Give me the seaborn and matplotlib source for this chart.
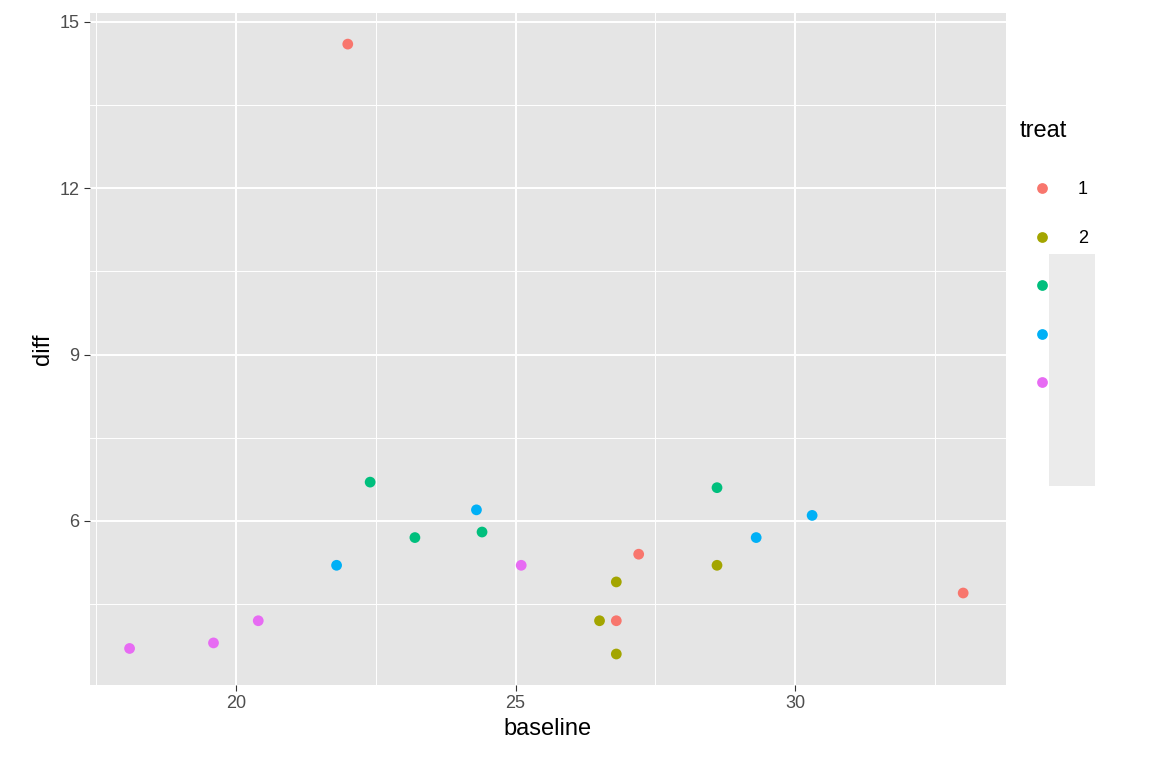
import matplotlib
matplotlib.use("Agg")
import matplotlib.pyplot as plt
import seaborn as sns
import pandas as pd
from matplotlib.ticker import MultipleLocator
from matplotlib.patches import Rectangle

baseline = [22.0, 27.2, 26.8, 33.0, 26.8, 26.5, 26.8, 28.6, 22.4, 23.2, 24.4, 28.6,
            21.8, 24.3, 29.3, 30.3, 18.1, 19.6, 20.4, 25.1]
diff = [14.6, 5.4, 4.2, 4.7, 4.9, 4.2, 3.6, 5.2, 6.7, 5.7, 5.8, 6.6,
        5.2, 6.2, 5.7, 6.1, 3.7, 3.8, 4.2, 5.2]
treat = ["1"]*4 + ["2"]*4 + ["3"]*4 + ["4"]*4 + ["5"]*4
colors = ["#F8766D", "#A3A500", "#00BF7D", "#00B0F6", "#E76BF3"]
df = pd.DataFrame({"baseline": baseline, "diff": diff, "treat": treat})

plt.rcParams["font.family"] = ["Liberation Sans", "DejaVu Sans"]
fig = plt.figure(figsize=(11.52, 7.68), dpi=100)
ax = fig.add_axes([0.078, 0.108, 0.795, 0.875])
ax.set_facecolor("#E5E5E5")
sns.scatterplot(data=df, x="baseline", y="diff", hue="treat", palette=colors,
                s=60, edgecolor="none", ax=ax, zorder=3)
ax.set_xlim(17.39, 33.76)
ax.set_ylim(3.04, 15.16)
ax.xaxis.set_major_locator(MultipleLocator(5))
ax.xaxis.set_minor_locator(MultipleLocator(2.5))
ax.yaxis.set_major_locator(MultipleLocator(3))
ax.yaxis.set_minor_locator(MultipleLocator(1.5))
ax.grid(which="major", color="white", linewidth=1.4)
ax.grid(which="minor", color="white", linewidth=0.7)
ax.set_axisbelow(True)
for s in ax.spines.values():
    s.set_visible(False)
ax.tick_params(which="major", length=4, color="#333333", labelsize=13, labelcolor="#4D4D4D")
ax.tick_params(which="minor", length=0)
ax.set_xlabel("baseline", fontsize=17)
ax.set_ylabel("diff", fontsize=17)
fig.patches.append(Rectangle((1049/1152, 1-486/768), 46/1152, 232/768,
                             transform=fig.transFigure, facecolor="#EBEBEB",
                             edgecolor="none", zorder=0))
leg = ax.legend(title="treat", loc="upper left", bbox_to_anchor=(1.012, 0.84),
                frameon=False, fontsize=13, title_fontsize=17, labelspacing=1.75,
                handletextpad=1.0, alignment="left", borderaxespad=0)
leg.get_title().set_position((-4, 8))
fig.savefig("out.png", dpi=100)
